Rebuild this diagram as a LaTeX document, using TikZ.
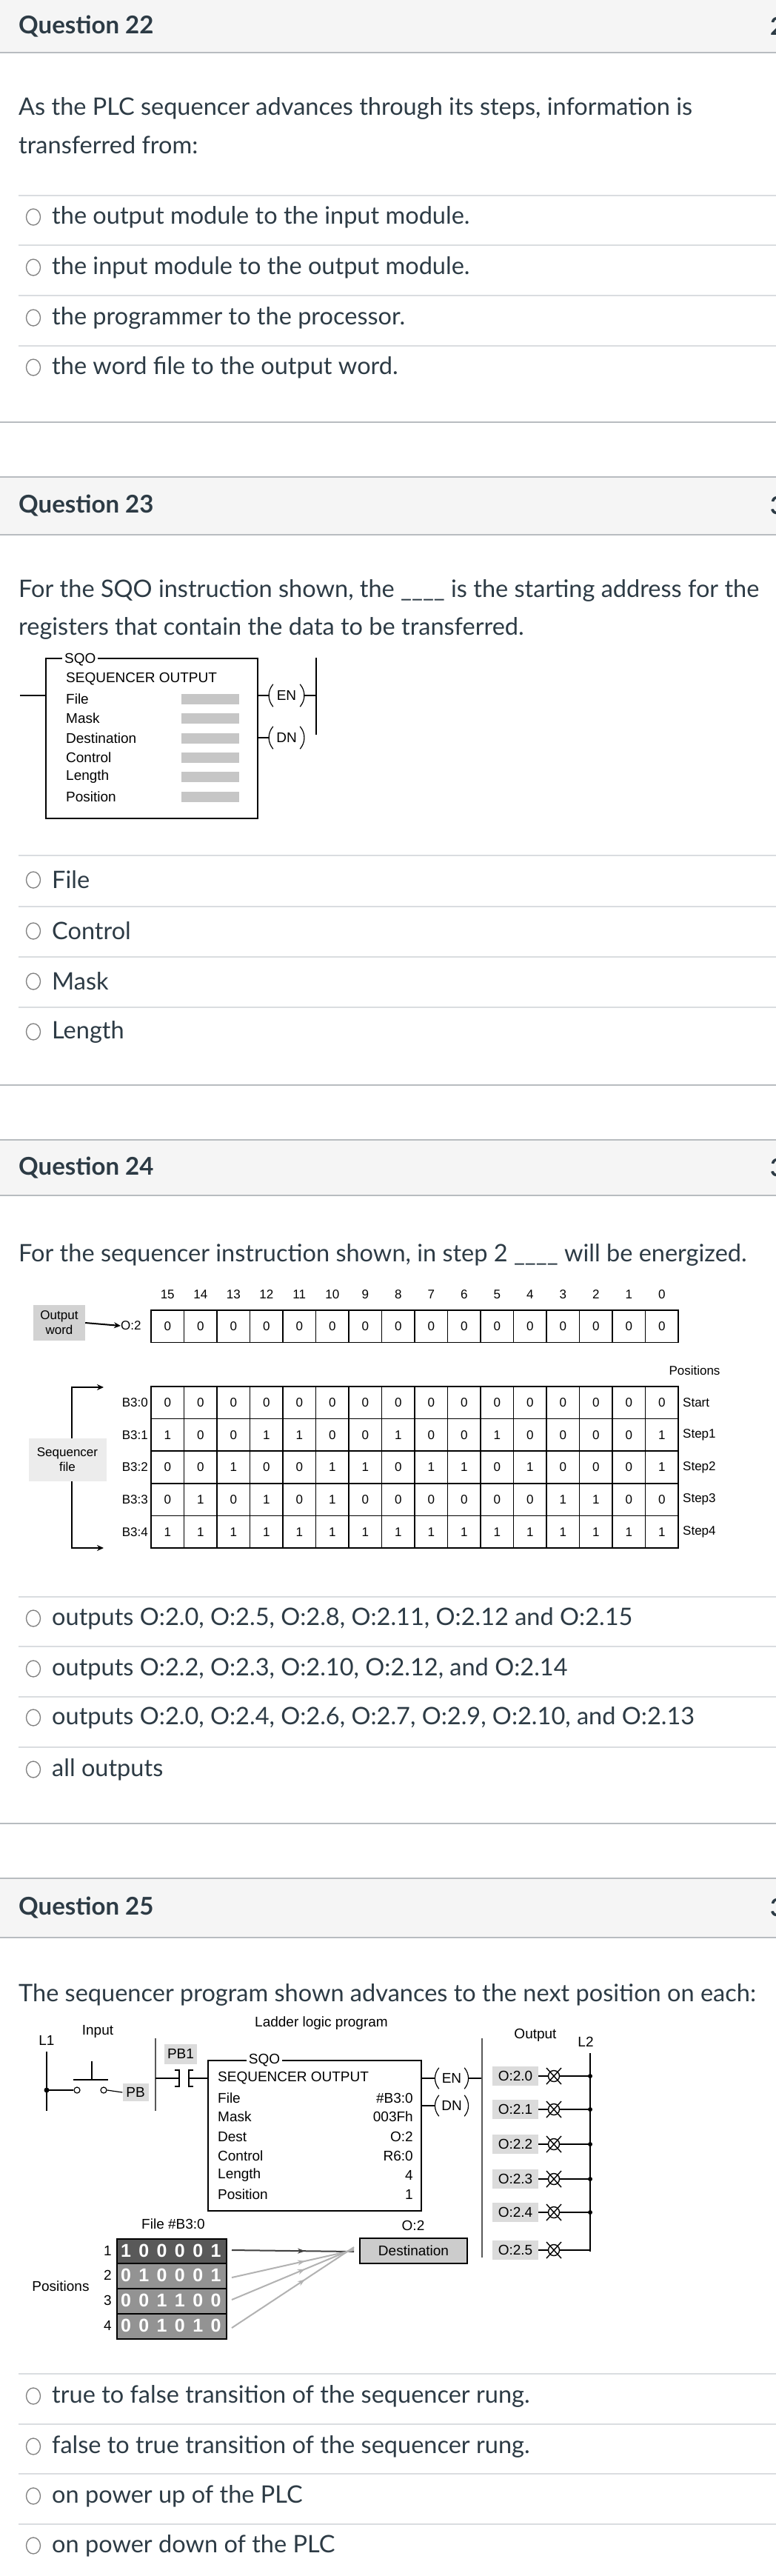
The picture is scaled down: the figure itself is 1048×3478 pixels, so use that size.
\documentclass[tikz,border=0pt]{standalone}
\usepackage{fontspec}
\setmainfont{Lato}
\newfontfamily\arial{Liberation Sans}
\usetikzlibrary{arrows.meta,decorations.markings,shapes.geometric}
\definecolor{ink}{HTML}{2D3B45}
\definecolor{hdr}{HTML}{F5F5F5}
\definecolor{rulec}{HTML}{DADDE0}
\definecolor{hdrline}{HTML}{B8BCC0}
\begin{document}
\begin{tikzpicture}[x=1pt,y=-1pt,
  txt/.style={anchor=west,inner sep=0,font=\fontsize{32.5}{38}\selectfont,text=ink},
  hd/.style={anchor=west,inner sep=0,font=\fontsize{33}{38}\selectfont\bfseries,text=ink},
  sepl/.style={draw=rulec,line width=1.5},
  radio/.style={ellipse,draw=gray,line width=1.3,minimum width=19,minimum height=22,inner sep=0},
  lad/.style={font=\arial\fontsize{19}{22}\selectfont,inner sep=0},
  tab/.style={font=\arial\fontsize{17}{20}\selectfont,inner sep=0},
  cell/.style={draw,line width=1.6,minimum width=44.5,minimum height=43.6,inner sep=0,font=\arial\fontsize{17}{20}\selectfont},
  coil/.style={lad,minimum width=46,minimum height=30},
  glab/.style={lad,fill=gray!28,inner sep=2pt},
  wire/.style={line width=1.2},
  midarrow/.style={postaction={decorate},decoration={markings,mark=at position 0.6 with {\arrow{Stealth[length=10pt,width=7pt]}}}}
]
\useasboundingbox (0,0) rectangle (1048,3478);
\fill[white] (0,0) rectangle (1048,3478);
\newcommand\parens[1]{%
  \draw[wire] ([xshift=5]#1.north west) to[bend right=40] ([xshift=5]#1.south west);
  \draw[wire] ([xshift=-5]#1.north east) to[bend left=40] ([xshift=-5]#1.south east);}

% ---------- headers ----------
\foreach \a/\b/\n/\p in {0/71/22/2,644/722/23/3,1539/1614/24/3,2536/2616/25/3}{
  \fill[hdr] (0,\a) rectangle (1048,\b);
  \draw[hdrline,line width=1.5] (0,\b) -- (1048,\b);
  \ifnum\n>22 \draw[hdrline,line width=1.5] (0,\a) -- (1048,\a);\fi
  \node[hd] (h\n) at (25,{(\a+\b)/2}) {Question \n};
  \node[hd] (p\n) at (1040,{(\a+\b)/2}) {\p};
}
\foreach \y in {570,1465,2462}{\draw[hdrline,line width=1.5] (0,\y) -- (1048,\y);}

% ---------- Q22 ----------
\node[txt] (q22a) at (25,146) {As the PLC sequencer advances through its steps, information is};
\node[txt] (q22b) at (25,196) {transferred from:};
\foreach \y in {264,331,399,467}{\draw[sepl] (25,\y) -- (1048,\y);}
\foreach \y/\t [count=\i] in {293/{the output module to the input module.},361/{the input module to the output module.},429/{the programmer to the processor.},496/{the word file to the output word.}}{
  \node[radio] (r22\i) at (45,\y) {};
  \node[txt] (o22\i) at (70,\y) {\t};
}

% ---------- Q23 ----------
\node[txt] (q23a) at (25,797) {For the SQO instruction shown, the \_\_\_\_ is the starting address for the};
\node[txt] (q23b) at (25,848) {registers that contain the data to be transferred.};
\draw[wire] (62,889) rectangle (348,1105);
\node[lad,fill=white,inner xsep=3pt,anchor=west] (sqo1) at (84,891) {SQO};
\coordinate (l23) at (27,939);
\draw[wire] (l23) -- (62,939);
\foreach \y/\t [count=\i] in {917/{SEQUENCER OUTPUT},944/File,970/Mask,997/Destination,1023/Control,1049/Length,1076/Position}{
  \node[lad,anchor=west] (s23\i) at (89,\y) {\t};
}
\foreach \y [count=\i] in {944,970,997,1023,1049,1076}{\fill[gray!45] (245,\y-7) rectangle (323,\y+7);}
\node[coil] (en1) at (387,939) {EN}; \parens{en1}
\node[coil] (dn1) at (387,996) {DN}; \parens{dn1}
\coordinate (rail23t) at (427,888); \coordinate (rail23b) at (427,992);
\draw[wire] (348,939) -- (en1.west);
\draw[wire] (348,996) -- (dn1.west);
\draw[wire] (en1.east) -- (427,939);
\draw[wire] (rail23t) -- (rail23b);
\foreach \y in {1155,1224,1292,1360}{\draw[sepl] (25,\y) -- (1048,\y);}
\foreach \y/\t [count=\i] in {1188/File,1257/Control,1325/Mask,1393/Length}{
  \node[radio] (r23\i) at (45,\y) {};
  \node[txt] (o23\i) at (70,\y) {\t};
}

% ---------- Q24 ----------
\node[txt] (q24a) at (25,1694) {For the sequencer instruction shown, in step 2 \_\_\_\_ will be energized.};
\node[tab,fill=gray!35,minimum width=70,minimum height=48,align=center] (ow) at (80,1786) {Output\\word};
\node[tab,anchor=west] (o2) at (163,1790) {O:2};
\draw[-{Stealth[length=9pt,width=8pt]},line width=2] (ow.east) -- (o2.west);
\foreach \i in {0,...,15}{
  \pgfmathtruncatemacro\b{15-\i}
  \node[cell] (w\i) at ({226.25+\i*44.5},1790.5) {0};
  \node[tab] (bn\i) at ({226.25+\i*44.5},1748) {\b};
}
\node[tab] (pos24) at (938,1850) {Positions};
\foreach \r/\bits/\st in {0/{0,0,0,0,0,0,0,0,0,0,0,0,0,0,0,0}/Start,
                        1/{1,0,0,1,1,0,0,1,0,0,1,0,0,0,0,1}/Step1,
                        2/{0,0,1,0,0,1,1,0,1,1,0,1,0,0,0,1}/Step2,
                        3/{0,1,0,1,0,1,0,0,0,0,0,0,1,1,0,0}/Step3,
                        4/{1,1,1,1,1,1,1,1,1,1,1,1,1,1,1,1}/Step4}{
  \foreach \v [count=\c from 0] in \bits {
    \node[cell] (b\r-\c) at ({226.25+\c*44.5},{1893.8+\r*43.6}) {\v};
  }
  \node[tab,anchor=east] (bl\r) at (200,{1893.8+\r*43.6}) {B3:\r};
  \node[tab,anchor=west] (st\r) at (922,{1893.8+\r*43.6}) {\st};
}
\coordinate (brt) at (140,1873); \coordinate (brb) at (140,2090);
\coordinate (brm) at (97,1981);
\draw[-{Stealth[length=9pt,width=8pt]},line width=2] (brm) |- (brt);
\draw[-{Stealth[length=9pt,width=8pt]},line width=2] (brm) |- (brb);
\node[tab,fill=gray!15,minimum width=105,minimum height=58,align=center] (sf) at (91,1971) {Sequencer\\file};
\foreach \y in {2156,2223,2291,2359}{\draw[sepl] (25,\y) -- (1048,\y);}
\foreach \y/\t [count=\i] in {2185/{outputs O:2.0, O:2.5, O:2.8, O:2.11, O:2.12 and O:2.15},
                             2253/{outputs O:2.2, O:2.3, O:2.10, O:2.12, and O:2.14},
                             2319/{outputs O:2.0, O:2.4, O:2.6, O:2.7, O:2.9, O:2.10, and O:2.13},
                             2389/{all outputs}}{
  \node[radio] (r24\i) at (45,\y) {};
  \node[txt] (o24\i) at (70,\y) {\t};
}

% ---------- Q25 ----------
\node[txt] (q25a) at (25,2693) {The sequencer program shown advances to the next position on each:};
\node[lad] (llp) at (434,2732) {Ladder logic program};
\node[lad] (inp) at (132,2743) {Input};
\node[lad] (L1) at (63,2755) {L1};
\node[lad] (outp) at (723,2748) {Output};
\node[lad] (L2) at (791,2757) {L2};
\draw[line width=1.8] (63,2770) -- (63,2850);
\fill (63,2822) circle (3.5);
\node[circle,draw,line width=1.2,minimum size=8,inner sep=0] (pc1) at (104,2822) {};
\node[circle,draw,line width=1.2,minimum size=8,inner sep=0] (pc2) at (140,2822) {};
\draw[wire] (63,2822) -- (pc1.west);
\draw[line width=1.8] (99,2808) -- (146,2808);
\draw[line width=1.8] (124,2783) -- (124,2808);
\node[glab,minimum width=35,minimum height=24] (pb) at (183,2825) {PB};
\draw[wire] (pc2.east) -- (pb.west);
\draw[wire,gray!70!black] (210,2752) -- (210,2850);
\node[glab,minimum width=44,minimum height=27] (pb1) at (244,2773) {PB1};
\draw[wire] (210,2806) -- (242,2806);
\draw[wire] (236,2795) -- (242,2795) -- (242,2817) -- (236,2817);
\draw[wire] (261,2795) -- (255,2795) -- (255,2817) -- (261,2817);
\draw[wire] (255,2806) -- (281,2806);
\draw[wire] (281,2782) rectangle (569,2985);
\node[lad,fill=white,inner xsep=3pt] (sqo2) at (357,2782) {SQO};
\foreach \y/\t/\v [count=\i] in {2806/{SEQUENCER OUTPUT}/{},2833/File/\#B3:0,2858/Mask/003Fh,2885/Dest/O:2,2911/Control/R6:0,2937/Length/4,2963/Position/1}{
  \node[lad,anchor=west] (f25\i) at (294,\y) {\t};
  \node[lad,anchor=east] (v25\i) at (558,\y) {\v};
}
\node[coil,minimum width=44,minimum height=28] (en2) at (610,2806) {EN}; \parens{en2}
\node[coil,minimum width=44,minimum height=28] (dn2) at (610,2843) {DN}; \parens{dn2}
\draw[wire] (569,2806) -- (en2.west);
\draw[wire] (569,2843) -- (dn2.west);
\draw[wire] (en2.east) -- (651,2806);
\draw[wire,gray!70!black] (651,2752) -- (651,3048);
\draw[line width=1.8] (797,2772) -- (797,3040);
\foreach \y/\t [count=\i] in {2803/O:2.0,2848/O:2.1,2895/O:2.2,2942/O:2.3,2987/O:2.4,3038/O:2.5}{
  \node[glab,minimum width=62,minimum height=26] (ol\i) at (696,\y) {\t};
  \node[circle,draw,line width=1.4,minimum size=15,inner sep=0] (lp\i) at (748,\y) {};
  \draw[line width=1.4] (738,\y-11) -- (758,\y+11) (738,\y+11) -- (758,\y-11);
  \draw[wire] (ol\i.east) -- (lp\i.west);
  \draw[line width=1.8] (lp\i.east) -- (797,\y);
  \ifnum\i<6 \fill (797,\y) circle (3);\fi
}
\node[lad] (fb) at (234,3003) {File \#B3:0};
\node[lad] (o2b) at (558,3005) {O:2};
\foreach \y/\bits/\col/\n [count=\r] in {3022/{1,0,0,0,0,1}/gray!70!black/1,3055/{0,1,0,0,0,1}/gray!85/2,3089/{0,0,1,1,0,0}/gray!85/3,3123/{0,0,1,0,1,0}/gray!85/4}{
  \node[draw,line width=1.5,fill=\col,minimum width=148,minimum height=34,anchor=north west,inner sep=0] (fr\r) at (157,\y) {};
  \foreach \v [count=\c from 0] in \bits {
    \node[font=\arial\bfseries\fontsize{25}{28}\selectfont,text=white,inner sep=0] (d\r-\c) at ({170+\c*24.3},\y+17) {\v};
  }
  \node[lad,anchor=east] (pn\r) at (151,\y+17) {\n};
}
\node[lad] (posn) at (82,3087) {Positions};
\node[lad,draw,line width=1.5,fill=gray!40,minimum width=145,minimum height=34] (dest) at (558.5,3039) {Destination};
\coordinate (dst) at (478,3040);
\draw[line width=2,gray!50!black,midarrow] (313,3038) -- (dst);
\draw[line width=2,gray!60,midarrow] (313,3075) -- ([yshift=2]dst);
\draw[line width=2,gray!60,midarrow] (313,3105) -- ([yshift=4]dst);
\draw[line width=2,gray!60,midarrow] (313,3143) -- ([yshift=6]dst);
\foreach \y in {3205,3273,3340,3408}{\draw[sepl] (25,\y) -- (1048,\y);}
\foreach \y/\t [count=\i] in {3235/{true to false transition of the sequencer rung.},3303/{false to true transition of the sequencer rung.},3370/{on power up of the PLC},3437/{on power down of the PLC}}{
  \node[radio] (r25\i) at (45,\y) {};
  \node[txt] (o25\i) at (70,\y) {\t};
}
\end{tikzpicture}
\end{document}
